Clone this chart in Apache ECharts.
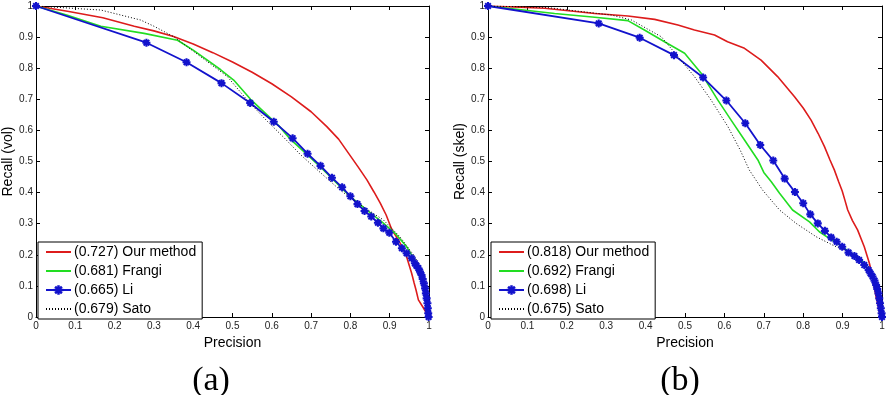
<!DOCTYPE html>
<html>
<head>
<meta charset="utf-8">
<script src="https://cdn.jsdelivr.net/npm/echarts@6/dist/echarts.min.js"></script>
<style>
  html, body { margin: 0; padding: 0; background: #fff; }
  #chart { width: 889px; height: 395px; }
</style>
</head>
<body>
<div id="chart"></div>
<script>
// tick labels
const ticks = ["0", "0.1", "0.2", "0.3", "0.4", "0.5", "0.6", "0.7", "0.8", "0.9", "1"];

// (a) volume based PR curves, [precision, recall]
const oursA = [[0,1],[0.08,0.983],[0.17,0.962],[0.25,0.935],[0.30,0.920],[0.35,0.902],[0.40,0.878],[0.45,0.850],[0.50,0.820],[0.55,0.787],[0.60,0.750],[0.65,0.708],[0.70,0.660],[0.74,0.612],[0.77,0.572],[0.795,0.527],[0.82,0.482],[0.842,0.441],[0.86,0.402],[0.876,0.366],[0.891,0.328],[0.905,0.282],[0.922,0.248],[0.935,0.218],[0.943,0.194],[0.950,0.165],[0.956,0.140],[0.962,0.110],[0.967,0.087],[0.973,0.055],[0.984,0.033],[0.994,0.012],[1,0]];
const frangiA = [[0,1],[0.08,0.970],[0.165,0.935],[0.275,0.912],[0.36,0.890],[0.40,0.858],[0.436,0.826],[0.47,0.795],[0.503,0.762],[0.546,0.700],[0.588,0.650],[0.62,0.612],[0.647,0.572],[0.69,0.522],[0.723,0.483],[0.757,0.441],[0.80,0.387],[0.842,0.344],[0.880,0.306],[0.914,0.269],[0.943,0.226],[0.964,0.183],[0.977,0.151],[0.990,0.108],[0.998,0.044],[1,0]];
const liA = [[0,1],[0.281,0.882],[0.383,0.819],[0.472,0.752],[0.545,0.688],[0.605,0.628],[0.653,0.575],[0.691,0.525],[0.724,0.486],[0.753,0.448],[0.779,0.417],[0.80,0.388],[0.818,0.363],[0.836,0.341],[0.853,0.323],[0.870,0.303],[0.884,0.285],[0.899,0.271],[0.916,0.242],[0.931,0.221],[0.943,0.205],[0.956,0.189],[0.964,0.173],[0.968,0.165],[0.973,0.157],[0.977,0.146],[0.981,0.135],[0.984,0.122],[0.987,0.108],[0.990,0.092],[0.992,0.076],[0.994,0.060],[0.996,0.044],[0.997,0.028],[0.998,0.012],[0.999,0]];
const satoA = [[0,1],[0.165,0.987],[0.266,0.955],[0.30,0.935],[0.351,0.901],[0.419,0.837],[0.487,0.773],[0.537,0.698],[0.588,0.630],[0.63,0.578],[0.673,0.522],[0.723,0.465],[0.774,0.408],[0.808,0.376],[0.85,0.340],[0.884,0.312],[0.926,0.258],[0.964,0.194],[0.981,0.151],[0.994,0.087],[1,0]];

// (b) skeleton based PR curves
const oursB = [[0,1],[0.144,0.993],[0.271,0.976],[0.355,0.968],[0.423,0.957],[0.482,0.939],[0.524,0.923],[0.575,0.907],[0.608,0.885],[0.651,0.864],[0.693,0.826],[0.735,0.773],[0.778,0.708],[0.80,0.672],[0.820,0.633],[0.838,0.590],[0.854,0.548],[0.868,0.505],[0.879,0.473],[0.89,0.435],[0.899,0.405],[0.906,0.375],[0.913,0.344],[0.925,0.310],[0.938,0.280],[0.955,0.226],[0.968,0.173],[0.974,0.140],[0.980,0.100],[0.985,0.065],[0.989,0.044],[0.994,0.012],[1,0]];
const frangiB = [[0,1],[0.169,0.976],[0.271,0.964],[0.355,0.953],[0.397,0.923],[0.448,0.885],[0.499,0.848],[0.541,0.784],[0.583,0.698],[0.617,0.633],[0.651,0.569],[0.685,0.505],[0.70,0.465],[0.719,0.435],[0.740,0.398],[0.773,0.344],[0.816,0.306],[0.841,0.274],[0.866,0.253],[0.892,0.232],[0.917,0.210],[0.947,0.183],[0.968,0.151],[0.985,0.108],[0.995,0.055],[1,0]];
const liB = [[0,1],[0.281,0.944],[0.385,0.898],[0.472,0.842],[0.546,0.770],[0.605,0.696],[0.653,0.623],[0.691,0.553],[0.724,0.503],[0.753,0.445],[0.779,0.402],[0.800,0.366],[0.818,0.330],[0.837,0.301],[0.855,0.277],[0.871,0.256],[0.885,0.242],[0.899,0.226],[0.915,0.207],[0.930,0.196],[0.942,0.183],[0.955,0.167],[0.966,0.151],[0.971,0.140],[0.976,0.130],[0.981,0.117],[0.985,0.103],[0.988,0.090],[0.991,0.076],[0.993,0.060],[0.995,0.044],[0.997,0.028],[0.999,0.012],[1,0]];
const satoB = [[0,1],[0.144,0.996],[0.313,0.971],[0.364,0.955],[0.440,0.901],[0.482,0.837],[0.524,0.773],[0.566,0.698],[0.609,0.612],[0.640,0.537],[0.663,0.473],[0.697,0.408],[0.740,0.344],[0.782,0.301],[0.833,0.258],[0.883,0.226],[0.917,0.210],[0.947,0.183],[0.968,0.150],[0.985,0.107],[0.995,0.054],[1,0]];

const namesA = ["(0.727) Our method", "(0.681) Frangi", "(0.665) Li", "(0.679) Sato"];
const namesB = ["(0.818) Our method", "(0.692) Frangi", "(0.698) Li", "(0.675) Sato"];

const FONT = '"Liberation Sans", Arial, sans-serif';
// matlab '*' marker
const STAR = "path://M-1.3,-5L1.3,-5L1.3,5L-1.3,5Z M-5,-1.3L5,-1.3L5,1.3L-5,1.3Z M-4.4,-2.6L-2.6,-4.4L4.4,2.6L2.6,4.4Z M2.6,-4.4L4.4,-2.6L-2.6,4.4L-4.4,2.6Z";

function valAxis(grid, pos, name, showLabel) {
  const isX = pos === "bottom" || pos === "top";
  return {
    type: "value",
    gridIndex: grid,
    position: pos,
    min: 0,
    max: 1,
    interval: 0.1,
    name: name,
    nameLocation: "middle",
    nameGap: isX ? 12 : 21,
    nameTextStyle: { fontFamily: FONT, fontSize: 14, color: "#000" },
    axisLine: { show: true, onZero: false, lineStyle: { color: "#000", width: 1 } },
    axisTick: { show: true, inside: true, length: 4, lineStyle: { color: "#000" } },
    axisLabel: {
      show: showLabel,
      fontFamily: FONT,
      fontSize: 10,
      color: "#222",
      margin: isX ? 4 : 3,
      formatter: function (v) { return ticks[Math.round(v * 10)]; }
    },
    splitLine: { show: false }
  };
}

function makeSeries(names, data, xi, yi) {
  const cols = ["#dd1c1c", "#22dd22", "#1212cc", "#000"];
  return names.map(function (n, i) {
    const s = {
      name: n,
      type: "line",
      xAxisIndex: xi,
      yAxisIndex: yi,
      data: data[i],
      symbol: "none",
      animation: false,
      lineStyle: { color: cols[i], width: 1.6 },
      itemStyle: { color: cols[i] }
    };
    if (i === 2) {
      s.symbol = STAR;
      s.symbolSize = 8;
      s.showSymbol = true;
      s.lineStyle.width = 1.8;
    }
    if (i === 3) {
      s.lineStyle = { color: "#000", width: 1, type: [1, 2] };
    }
    return s;
  });
}

function legendFor(names, left) {
  return {
    // hide the default circle on plain lines, keep the star on Li
    data: names.map(function (n, i) {
      return i === 2 ? { name: n } : { name: n, itemStyle: { opacity: 0 } };
    }),
    orient: "vertical",
    left: left,
    top: 242,
    itemWidth: 25,
    itemHeight: 12,
    itemGap: 5,
    padding: [3, 6, 3, 7],
    backgroundColor: "#fff",
    borderColor: "#000",
    borderWidth: 1,
    borderRadius: 0,
    selectedMode: false,
    textStyle: { fontFamily: FONT, fontSize: 14, color: "#000", padding: [0, 0, 0, -2] }
  };
}

const chart = echarts.init(document.getElementById("chart"));
chart.setOption({
  animation: false,
  backgroundColor: "#fff",
  grid: [
    { left: 35, top: 6, width: 394, height: 311 },
    { left: 488, top: 6, width: 394, height: 311 }
  ],
  xAxis: [
    valAxis(0, "bottom", "Precision", true),
    valAxis(0, "top", "", false),
    valAxis(1, "bottom", "Precision", true),
    valAxis(1, "top", "", false)
  ],
  yAxis: [
    valAxis(0, "left", "Recall (vol)", true),
    valAxis(0, "right", "", false),
    valAxis(1, "left", "Recall (skel)", true),
    valAxis(1, "right", "", false)
  ],
  legend: [legendFor(namesA, 38), legendFor(namesB, 491)],
  title: [
    { text: "(a)", left: 211, top: 364, padding: 0, textAlign: "center",
      textStyle: { fontFamily: '"Liberation Serif", serif', fontSize: 34, fontWeight: "normal", color: "#000" } },
    { text: "(b)", left: 680, top: 364, padding: 0, textAlign: "center",
      textStyle: { fontFamily: '"Liberation Serif", serif', fontSize: 34, fontWeight: "normal", color: "#000" } }
  ],
  series: []
    .concat(makeSeries(namesA, [oursA, frangiA, liA, satoA], 0, 0))
    .concat(makeSeries(namesB, [oursB, frangiB, liB, satoB], 2, 2))
});
</script>
</body>
</html>
